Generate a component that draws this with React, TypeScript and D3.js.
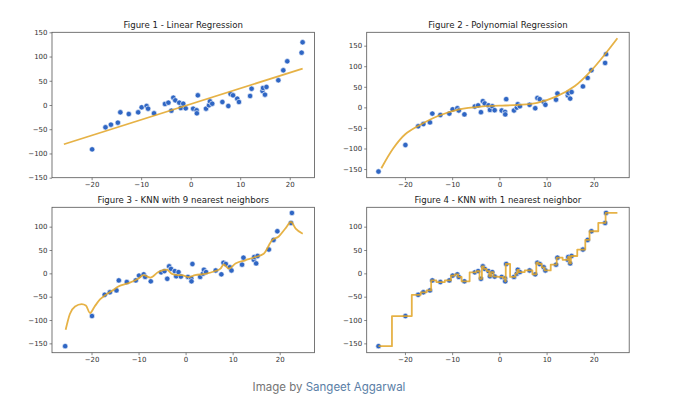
import React, { useEffect, useRef } from 'react';
import * as d3 from 'd3';

// scatter data
const pointX = [-25.6, -19.9, -17.2, -16.1, -14.7, -14.2, -12.5, -10.6, -9.9, -8.9, -8.6, -7.4, -5.2, -4.5, -3.9, -3.5, -3.1, -2.3, -2.0, -1.5, -1.0, 0.5, 1.2, 1.25, 1.45, 3.1, 3.7, 3.9, 4.35, 6.4, 7.6, 8.05, 8.55, 9.4, 9.75, 12.0, 12.3, 14.5, 14.6, 15.0, 15.3, 17.7, 18.7, 19.5, 22.4, 22.6];
const pointY = [-156, -91.5, -46, -40.6, -36.5, -15.1, -18.6, -15.1, -4.8, -2.1, -7.6, -17.1, 2.1, 4.8, -11.7, 15.1, 9.6, 4.8, -6.2, 2.7, -6.9, -7.6, -10.9, -17.1, 20.0, -7.6, -0.6, 7.6, 2.7, 6.2, -2.1, 22.7, 20.0, 13.0, 6.2, 18.6, 33.6, 28.9, 35.1, 21.3, 37.2, 51.0, 71.6, 90.2, 108.0, 129.4];

// fitted curves
const linearX = [-25.6, 22.6];
const linearY = [-81, 75];
const polyX = [-25, -22.5, -20, -17, -13, -8.5, -4, 0, 4, 8, 12, 16, 19.5, 22.5, 25];
const polyY = [-148, -100, -66, -44, -21, -5, 2, 4, 6, 11, 26, 52, 90, 131, 168];
const knn9X = [-25.5, -24.6, -23.5, -22.1, -21.2, -20.3, -19.4, -18.2, -17.1, -15.7, -14.3, -12.1, -10.0, -9.0, -7.5, -5.8, -4.0, -2.9, -1.5, -0.8, 0.6, 2.0, 4.2, 6.3, 7.4, 8.1, 9.2, 10.6, 12.7, 14.8, 16.6, 18.4, 19.8, 21.2, 22.4, 23.4, 24.9];
const knn9Y = [-121, -87, -71, -66, -69, -85, -72, -56, -47, -38, -28, -21, -11, -4, -9, 3, 8, -1, -4, -4, -8, -4, -1, 5, 10, 19, 10, 21, 28, 35, 42, 71, 79, 96, 110, 96, 85];
const knn1EndX = 25;

const xTicks = [-20, -10, 0, 10, 20];
const yTicksTop = [-150, -100, -50, 0, 50, 100, 150];
const yTicksBottom = [-150, -100, -50, 0, 50, 100];

const titles = [
  'Figure 1 - Linear Regression',
  'Figure 2 - Polynomial Regression',
  'Figure 3 - KNN with 9 nearest neighbors',
  'Figure 4 - KNN with 1 nearest neighbor',
];

const DOT = '#2f66c4';
const LINE = '#e2a526';

export default function App() {
  const svgRef = useRef<SVGSVGElement>(null);

  useEffect(() => {
    if (!svgRef.current) return;
    const svg = d3.select(svgRef.current);
    svg.selectAll('*').remove();

    const pts = pointX.map((x, i) => ({ x, y: pointY[i] }));
    const sorted = [...pts].sort((a, b) => a.x - b.x);
    const knn1 = [...sorted, { x: knn1EndX, y: sorted[sorted.length - 1].y }];

    const panels = [
      { left: 52, top: 32.3, xd: [-28.0, 25.0], yd: [-150, 150], yt: yTicksTop,
        curve: linearX.map((x, i) => ({ x, y: linearY[i] })), shape: d3.curveLinear },
      { left: 366.7, top: 32.3, xd: [-28.1, 27.5], yd: [-171, 182.5], yt: yTicksTop,
        curve: polyX.map((x, i) => ({ x, y: polyY[i] })), shape: d3.curveCatmullRom },
      { left: 52, top: 207.3, xd: [-28.4, 27.4], yd: [-170, 141.5], yt: yTicksBottom,
        curve: knn9X.map((x, i) => ({ x, y: knn9Y[i] })), shape: d3.curveMonotoneX },
      { left: 366.7, top: 207.3, xd: [-28.1, 27.5], yd: [-170, 141.5], yt: yTicksBottom,
        curve: knn1, shape: d3.curveStep },
    ];
    const w = 262.5;
    const h = 145.4;
    const fmt = (v: number) => (v < 0 ? '\u2212' + Math.abs(v) : String(v));

    panels.forEach((p, idx) => {
      const x = d3.scaleLinear().domain(p.xd).range([0, w]);
      const y = d3.scaleLinear().domain(p.yd).range([h, 0]);
      const g = svg.append('g').attr('transform', `translate(${p.left},${p.top})`);

      g.append('clipPath').attr('id', `clip${idx}`)
        .append('rect').attr('width', w).attr('height', h);

      const plot = g.append('g').attr('clip-path', `url(#clip${idx})`);
      plot.selectAll('circle').data(pts).join('circle')
        .attr('cx', d => x(d.x)).attr('cy', d => y(d.y)).attr('r', 2.7)
        .attr('fill', DOT).attr('stroke', '#fff').attr('stroke-width', 0.6);

      const line = d3.line<{ x: number; y: number }>()
        .x(d => x(d.x)).y(d => y(d.y)).curve(p.shape);
      plot.append('path').attr('d', line(p.curve) || '')
        .attr('fill', 'none').attr('stroke', LINE).attr('stroke-width', 1.8)
        .attr('stroke-opacity', 0.85).attr('stroke-linejoin', 'round');

      const xa = g.append('g').attr('transform', `translate(0,${h})`)
        .call(d3.axisBottom(x).tickValues(xTicks).tickSize(2.5).tickPadding(2).tickFormat(d => fmt(+d)));
      const ya = g.append('g')
        .call(d3.axisLeft(y).tickValues(p.yt).tickSize(2.5).tickPadding(2).tickFormat(d => fmt(+d)));
      [xa, ya].forEach(a => {
        a.select('.domain').remove();
        a.selectAll('line').attr('stroke', '#555').attr('stroke-width', 0.7);
        a.selectAll('text').attr('fill', '#333').style('font-size', '7px')
          .style('font-family', 'DejaVu Sans, sans-serif');
      });

      g.append('rect').attr('width', w).attr('height', h)
        .attr('fill', 'none').attr('stroke', '#555').attr('stroke-width', 0.8);

      g.append('text').attr('x', w / 2).attr('y', -4.5).attr('text-anchor', 'middle')
        .style('font-size', '8.6px').style('font-family', 'DejaVu Sans, sans-serif')
        .attr('fill', '#222').text(titles[idx]);
    });

    const cap = svg.append('text').attr('x', 329).attr('y', 391).attr('text-anchor', 'middle')
      .style('font-size', '11.5px').style('font-family', 'Inter, Roboto, sans-serif');
    cap.append('tspan').attr('fill', '#757575').text('Image by ');
    cap.append('tspan').attr('fill', '#5a7ea6').text('Sangeet Aggarwal');
  }, []);

  return (
    <svg ref={svgRef} width={680} height={401}
      style={{ position: 'absolute', left: 0, top: 0, background: '#fff' }} />
  );
}
